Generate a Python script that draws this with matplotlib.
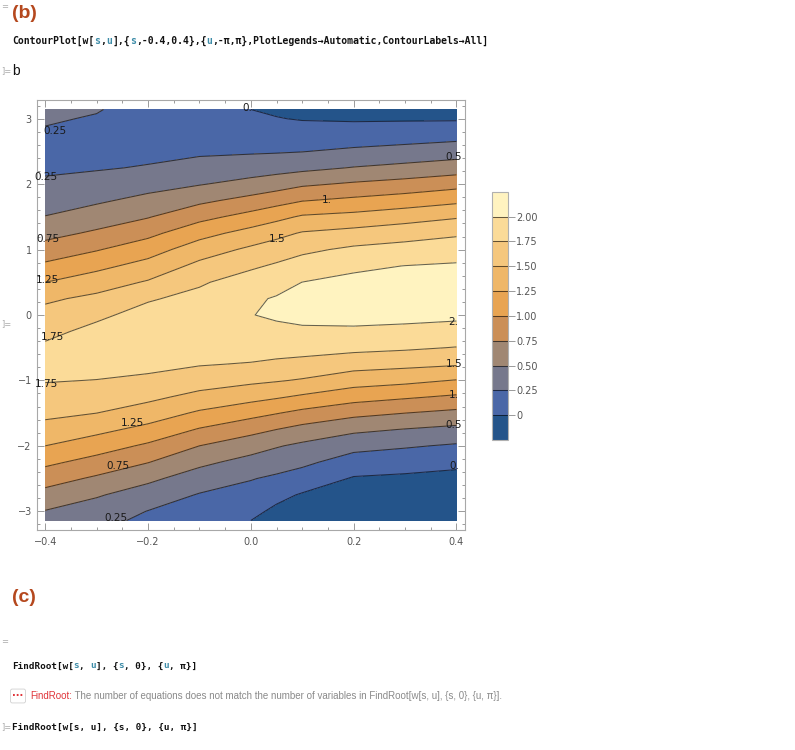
import numpy as np
import matplotlib.pyplot as plt
from matplotlib.colors import ListedColormap, BoundaryNorm
from matplotlib.ticker import MultipleLocator
from matplotlib.transforms import offset_copy

# grid: w[s, u]
s_vals = [-0.4, -0.3, -0.2, -0.1, 0.0, 0.05, 0.1, 0.2, 0.3, 0.4]
u_vals = [-np.pi, -3.0, -2.75, -2.5, -2.25, -2.0, -1.75, -1.5, -1.25, -1.0,
          -0.75, -0.5, -0.25, 0.0, 0.25, 0.5, 0.75, 1.0, 1.25, 1.5, 1.75,
          2.0, 2.25, 2.5, 2.75, 3.0, np.pi]
w_vals = [
    [0.42, 0.32, 0.20, 0.08, 0.0, -0.09, -0.15, -0.22, -0.25, -0.27],
    [0.49, 0.39, 0.244, 0.136, 0.057, -0.046, -0.103, -0.176, -0.204, -0.223],
    [0.667, 0.523, 0.387, 0.234, 0.157, 0.06, -0.02, -0.097, -0.121, -0.141],
    [0.855, 0.712, 0.55, 0.385, 0.263, 0.208, 0.136, -0.019, -0.039, -0.059],
    [1.055, 0.911, 0.758, 0.555, 0.419, 0.36, 0.304, 0.136, 0.093, 0.049],
    [1.25, 1.117, 0.96, 0.75, 0.603, 0.519, 0.452, 0.328, 0.276, 0.222],
    [1.419, 1.316, 1.179, 0.981, 0.83, 0.75, 0.67, 0.552, 0.491, 0.438],
    [1.555, 1.5, 1.383, 1.213, 1.083, 1.011, 0.935, 0.818, 0.75, 0.688],
    [1.661, 1.623, 1.558, 1.431, 1.333, 1.279, 1.216, 1.102, 1.034, 0.966],
    [1.764, 1.745, 1.703, 1.615, 1.551, 1.519, 1.479, 1.361, 1.313, 1.239],
    [1.852, 1.839, 1.816, 1.767, 1.735, 1.708, 1.68, 1.6, 1.565, 1.526],
    [1.79, 1.918, 1.912, 1.855, 1.87, 1.841, 1.837, 1.814, 1.784, 1.741],
    [1.688, 1.814, 1.931, 1.942, 1.97, 1.958, 1.973, 1.974, 1.953, 1.921],
    [1.583, 1.703, 1.835, 1.91, 1.995, 2.025, 2.046, 2.055, 2.056, 2.046],
    [1.458, 1.558, 1.726, 1.821, 1.967, 2.017, 2.058, 2.12, 2.134, 2.127],
    [1.25, 1.383, 1.524, 1.719, 1.869, 1.922, 2.002, 2.052, 2.085, 2.11],
    [1.048, 1.185, 1.338, 1.563, 1.71, 1.783, 1.857, 1.961, 2.003, 2.027],
    [0.852, 0.984, 1.142, 1.379, 1.546, 1.62, 1.70, 1.796, 1.842, 1.888],
    [0.671, 0.789, 0.935, 1.163, 1.339, 1.429, 1.521, 1.583, 1.648, 1.713],
    [0.507, 0.618, 0.736, 0.926, 1.087, 1.182, 1.28, 1.326, 1.398, 1.477],
    [0.40, 0.466, 0.568, 0.698, 0.83, 0.906, 0.989, 1.054, 1.12, 1.196],
    [0.296, 0.343, 0.413, 0.487, 0.58, 0.639, 0.713, 0.783, 0.841, 0.917],
    [0.203, 0.23, 0.267, 0.327, 0.379, 0.407, 0.438, 0.511, 0.565, 0.625],
    [0.12, 0.149, 0.187, 0.216, 0.225, 0.232, 0.245, 0.293, 0.336, 0.383],
    [0.208, 0.136, 0.114, 0.152, 0.137, 0.121, 0.109, 0.115, 0.136, 0.167],
    [0.284, 0.225, 0.11, 0.086, 0.05, 0.009, -0.013, -0.025, -0.023, -0.023],
    [0.32, 0.27, 0.12, 0.05, 0.0, -0.03, -0.05, -0.07, -0.07, -0.07],
]
levels = [0, 0.25, 0.5, 0.75, 1.0, 1.25, 1.5, 1.75, 2.0]
band_colors = ['#24548a', '#4a67a7', '#76788c', '#a08773', '#cb8f57',
               '#e8a452', '#efb768', '#f5c77d', '#fbdb98', '#fff3c0']
x_ticks = [-0.4, -0.2, 0.0, 0.2, 0.4]
y_ticks = [-3, -2, -1, 0, 1, 2, 3]

W, H = 795, 750


def mlabel(v):
    t = f"{v:g}"
    return t if '.' in t else t + '.'


fig = plt.figure(figsize=(W / 100, H / 100), dpi=100)
fig.patch.set_facecolor('white')

# main contour plot
ax = fig.add_axes([36.7 / W, 1 - 530 / H, 428.3 / W, 430 / H])
S, U = np.meshgrid(s_vals, u_vals)
Z = np.array(w_vals)
cmap = ListedColormap(band_colors[1:-1])
cmap.set_under(band_colors[0])
cmap.set_over(band_colors[-1])
norm = BoundaryNorm(levels, cmap.N)
cf = ax.contourf(S, U, Z, levels=levels, cmap=cmap, norm=norm, extend='both')
cl = ax.contour(S, U, Z, levels=levels, colors=[(0, 0, 0, 0.6)], linewidths=0.75)

ax.set_xlim(-0.4166, 0.4166)
ax.set_ylim(-3.287, 3.287)
ax.set_xticks(x_ticks)
ax.set_xticklabels([f"{t:.1f}".replace('-', '\u2212') for t in x_ticks])
ax.set_yticks(y_ticks)
ax.set_yticklabels([str(t).replace('-', '\u2212') for t in y_ticks])
ax.xaxis.set_minor_locator(MultipleLocator(0.05))
ax.yaxis.set_minor_locator(MultipleLocator(0.2))
ax.tick_params(which='both', direction='in', top=True, right=True,
               color='#8a8a8a', labelcolor='#555555', labelsize=7, width=0.6)
ax.tick_params(which='major', length=5)
ax.tick_params(which='minor', length=2.5)
ax.tick_params(axis='x', pad=5)
for sp in ax.spines.values():
    sp.set_color('#a8a8a8')
    sp.set_linewidth(0.8)

# contour labels, Mathematica style
label_spots = [(0, -0.006, 3.16), (0.25, -0.382, 2.81), (0.25, -0.398, 2.11),
               (0.5, 0.394, 2.41), (1.0, 0.147, 1.76), (1.5, 0.052, 1.16),
               (0.75, -0.395, 1.16), (1.25, -0.395, 0.53), (2.0, 0.393, -0.11),
               (1.75, -0.386, -0.34), (1.5, 0.395, -0.75), (1.75, -0.398, -1.06),
               (1.0, 0.395, -1.22), (1.25, -0.23, -1.65), (0.5, 0.395, -1.68),
               (0.75, -0.259, -2.31), (0, 0.395, -2.31), (0.25, -0.262, -3.10)]
for lev, sx, uy in label_spots:
    ax.text(sx, uy, mlabel(lev), fontsize=7.5, color='#1a1a1a',
            ha='center', va='center', clip_on=False)

# legend bar
cax = fig.add_axes([491.7 / W, 1 - 440 / H, 16 / W, 248.3 / H])
cb = fig.colorbar(cf, cax=cax, extendrect=True, extendfrac=0.125, ticks=levels)
cb.add_lines(cl)
cb.set_ticklabels(['0'] + [f"{v:.2f}" for v in levels[1:]])
cb.outline.set_edgecolor('#b0b0b0')
cb.outline.set_linewidth(0.8)
cax.tick_params(direction='out', length=5, width=0.6, color='#8a8a8a',
                labelcolor='#555555', labelsize=7, pad=1)

# notebook text around the graphic
mono = 'DejaVu Sans Mono'
sans = ['Liberation Sans', 'DejaVu Sans']
teal = '#3d8ca8'
head = '#b5481e'


def code(x, y, parts, size):
    base = fig.text(x / W, 1 - y / H, '', fontsize=size, family=mono)
    n = 0
    for txt, col in parts:
        tr = offset_copy(base.get_transform(), fig=fig,
                         x=n * 0.6021 * size, y=0, units='points')
        fig.text(x / W, 1 - y / H, txt, transform=tr, fontsize=size,
                 family=mono, weight='bold', color=col, va='center', ha='left')
        n += len(txt)


k = '#111111'
fig.text(12 / W, 1 - 14 / H, '(b)', fontsize=14, weight='bold', color=head,
         family=sans, va='center', ha='left')
code(12, 41, [('ContourPlot[w[', k), ('s', teal), (',', k), ('u', teal),
              ('],{', k), ('s', teal), (',-0.4,0.4},{', k), ('u', teal),
              (',-\u03c0,\u03c0},PlotLegends\u2192Automatic,ContourLabels\u2192All]', k)],
     7.05)
fig.text(12 / W, 1 - 71 / H, 'b', fontsize=10, color=k, family=sans,
         va='center', ha='left')

fig.text(12 / W, 1 - 597 / H, '(c)', fontsize=14, weight='bold', color=head,
         family=sans, va='center', ha='left')
code(12, 666, [('FindRoot[w[', k), ('s', teal), (', ', k), ('u', teal),
               ('], {', k), ('s', teal), (', 0}, {', k), ('u', teal),
               (', \u03c0}]', k)], 6.7)

fig.text(18 / W, 1 - 696 / H, '\u00b7\u00b7\u00b7', fontsize=7, color='#e0353a',
         weight='bold', va='center', ha='center',
         bbox=dict(boxstyle='round,pad=0.2', fc='white', ec='#d0d0d0', lw=0.6))
t1 = fig.text(30 / W, 1 - 699 / H, 'FindRoot:', fontsize=7.0, color='#e0353a',
              family=sans, va='baseline', ha='left')
r = fig.canvas.get_renderer()
x1 = 30 + t1.get_window_extent(renderer=r).width
fig.text(x1 / W, 1 - 699 / H,
         ' The number of equations does not match the number of variables in '
         'FindRoot[w[s, u], {s, 0}, {u, \u03c0}].',
         fontsize=7.0, color='#8a8a8a', family=sans, va='baseline', ha='left')

code(12, 727, [('FindRoot[w[s, u], {s, 0}, {u, \u03c0}]', k)], 6.7)

# cell bracket marks on the left margin
for yy, mk in [(7, '='), (71, ']='), (324, ']='), (642, '='), (727, ']=')]:
    fig.text(1 / W, 1 - yy / H, mk, fontsize=6, color='#aaaaaa',
             va='center', ha='left')

fig.savefig('out.png', dpi=100)
